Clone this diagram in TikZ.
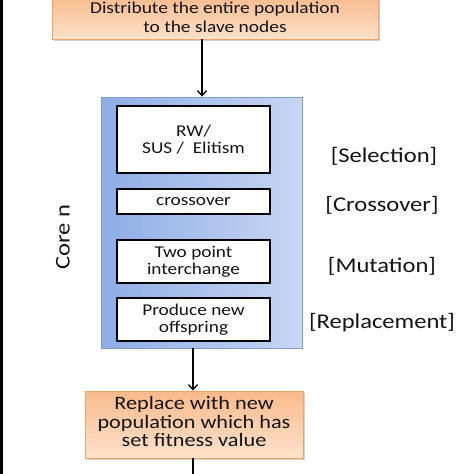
\documentclass[tikz,border=0pt]{standalone}
\usepackage{fontspec}
\setmainfont{Carlito}[FakeStretch=1.17]
\usetikzlibrary{arrows.meta,shadows}
\definecolor{orbd}{HTML}{F3A360}
\definecolor{ortop}{HTML}{F9BA8C}
\definecolor{orbot}{HTML}{FDE2CC}
\definecolor{bluel}{HTML}{8EADE6}
\definecolor{bluer}{HTML}{C8D7F2}
\definecolor{bluebd}{HTML}{7F9CCB}
\definecolor{txt}{HTML}{141414}
\tikzset{
  orangebox/.style={draw=orbd, line width=0.8pt, top color=ortop, bottom color=orbot,
    drop shadow={shadow xshift=1.5pt, shadow yshift=-1.5pt, opacity=0.35},
    align=center, inner sep=0pt, text=txt},
  innerbox/.style={draw=black, line width=2pt, fill=white, align=center, inner sep=0pt,
    text=txt, font=\fontsize{16.5}{17.5}\selectfont},
  tag/.style={text=txt, font=\fontsize{21}{22}\selectfont, inner sep=0pt},
  conn/.style={line width=1.3pt, -{Straight Barb[length=5pt,width=9pt,line width=1.3pt]}},
}
\begin{document}
\begin{tikzpicture}[x=1pt,y=-1pt]
\useasboundingbox (0,0) rectangle (474,474);
\fill[white] (0,0) rectangle (474,474);
% left edge line
\fill[black] (0,0) rectangle (2.5,474);
% top box
\node[orangebox, minimum width=326pt, minimum height=44pt,
  font=\fontsize{16.6}{19}\selectfont] (dist) at (215,17.5)
  {Distribute the entire population\\to the slave nodes};
% blue core box
\node[draw=bluebd, line width=0.8pt, left color=bluel, right color=bluer,
  minimum width=201pt, minimum height=251pt, inner sep=0pt] (core) at (202,222.5) {};
\node[innerbox, minimum width=153pt, minimum height=67pt] (sel) at (193.5,139.5) {RW/\\SUS /~ Elitism};
\node[innerbox, minimum width=153pt, minimum height=25pt] (cross) at (193.5,201.5) {crossover};
\node[innerbox, minimum width=153pt, minimum height=43pt] (mut) at (193.5,261.5) {Two point\\interchange};
\node[innerbox, minimum width=153pt, minimum height=43pt] (rep) at (193.5,319.5) {Produce new\\offspring};
% labels
\node[tag] (lsel) at (384,156) {[Selection]};
\node[tag] (lcross) at (382,205) {[Crossover]};
\node[tag] (lmut) at (382,266) {[Mutation]};
\node[tag] (lrep) at (382,323) {[Replacement]};
\node[tag, rotate=90] (coren) at (63,237) {Core n};
% bottom box
\node[orangebox, minimum width=218pt, minimum height=67pt] (repl) at (194,424.5) {};
\node[align=center, inner sep=0pt, text=txt, font=\fontsize{19}{18.5}\selectfont]
  (repltext) at (194,421.5) {Replace with new\\population which has\\set fitness value};
\coordinate (endb) at (193,474);
% connectors
\draw[conn] (202,38.5) -- (core.north -| 202,0);
\draw[conn] (193,348) -- (repl.north -| 193,0);
\draw[line width=1.3pt] (repl.south -| 193,0) -- (endb);
\end{tikzpicture}
\end{document}
